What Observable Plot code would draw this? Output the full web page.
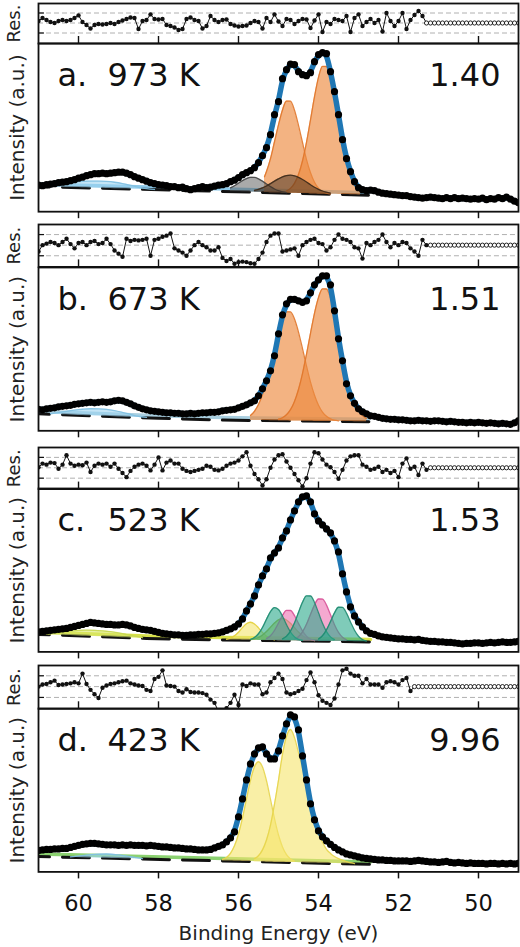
<!DOCTYPE html>
<html><head><meta charset="utf-8">
<script src="https://cdn.jsdelivr.net/npm/d3@7"></script>
<script src="https://cdn.jsdelivr.net/npm/@observablehq/plot@0.6"></script>
<style>
html,body{margin:0;padding:0;background:#fff;}
#chart{position:relative;width:520px;height:947px;overflow:hidden;font-family:"DejaVu Sans",sans-serif;}
#chart svg{position:absolute;left:0;overflow:visible;}
</style></head><body><div id="chart"></div>
<script>
// ---------- data ----------
const energy = [
61,60.9,60.8,60.7,60.6,60.5,60.4,60.3,60.2,60.1,
60,59.9,59.8,59.7,59.6,59.5,59.4,59.3,59.2,59.1,
59,58.9,58.8,58.7,58.6,58.5,58.4,58.3,58.2,58.1,
58,57.9,57.8,57.7,57.6,57.5,57.4,57.3,57.2,57.1,
57,56.9,56.8,56.7,56.6,56.5,56.4,56.3,56.2,56.1,
56,55.9,55.8,55.7,55.6,55.5,55.4,55.3,55.2,55.1,
55,54.9,54.8,54.7,54.6,54.5,54.4,54.3,54.2,54.1,
54,53.9,53.8,53.7,53.6,53.5,53.4,53.3,53.2,53.1,
53,52.9,52.8,52.7,52.6,52.5,52.4,52.3,52.2,52.1,
52,51.9,51.8,51.7,51.6,51.5,51.4,51.3,51.2,51.1,
51,50.9,50.8,50.7,50.6,50.5,50.4,50.3,50.2,50.1,
50,49.9,49.8,49.7,49.6,49.5,49.4,49.3,49.2,49.1,
49];
const xTicks = [60,58,56,54,52,50];
const residualGrid = [-1,0,1];
const residualTicks = [-1,1];
const letters = ["a.","b.","c.","d."];
const temperatures = ["973 K","673 K","523 K","423 K"];
const ratios = ["1.40","1.51","1.53","9.96"];
const fitEnd = [51.3,51.2,51.2,51.6];

const intensityA = [
26.5,26,27,27.5,28,29,29.5,30,31,32,
33.5,34.5,36,37,38,38,38.5,38,38.5,39,
39.5,39.5,38.5,37,35,33.5,32,30.5,29,28,
27,26.5,26,25,25,24,24.5,23,22,23,
24,25,24,24.5,25.5,26.5,27,28,30,31.5,
34,37,39,41,44,49,56,64,77,97,
110,133,142,147.5,147,140,137,136,139,150,
157,159,158,140,120,97,72,53,40,30,
24,22,21,21.5,21,19.5,18.5,18,17.5,17,
16.5,16,16,15,14.5,14,13.5,14,14.5,14,
13.5,13,14,13,14,13,13.5,13,12.5,13,
12.5,13.5,12,13,12.5,14,13,14.5,12.5,10.5,
9];
const intensityB = [
21.5,21,22,22.5,23,24,24.5,25,25.5,26.5,
27,27.5,28,28.5,28,28.5,29,28.5,29,30,
30.5,30,28.5,27,25,23.5,22,21,20,19.5,
19,18.5,18,18,17.5,17.5,17,17,17.5,17,
17.5,18,18,18.5,18.5,19,20,20.5,21,21.5,
23,24.5,26,28,30,35,42,50,60,75,
97,116,127,131.5,131.5,130,128.5,130,138,146,
151,155,155,146,120,92,70,47,35,27.5,
22,19,17,15,14.5,13.5,12.5,12,11.5,11.5,
11,11,10.5,10,10,10.5,10,10,9.5,10,
10,9.5,9,9.5,9,8.5,8.5,8,8.5,8,
8.5,8,7.5,8,7.5,7,7.5,7,6.5,8,
10];
const intensityC = [
20,20.5,21,21.5,22,22.5,23,23.5,24.5,25.5,
26.5,27.5,28.5,29.5,29,28.5,28,27.5,27.5,27,
27,27.5,27,26,24.5,23.5,22.5,22,21.5,20.5,
19.5,18.5,18,17.5,17,17,16.5,16.5,17,17,
17.5,17.5,18,18,18.5,19,20,21.5,23,25,
28,33,41,48,56,67,76,83,94,99,
104,114,121,132,141,150,155,156,150,138,
131,127,123,119,111,100,78,60,45,36,
30,25,21,18.5,17.5,16,15,14.5,14,13.5,
13,13,12.5,12.5,12,12.5,11.5,11,10.5,10.5,
10,10,9.5,9.5,9,8.5,8,8.5,8.5,9,
9,8.5,9,9.5,9,9.5,10,9.5,9.5,10,
10.5];
const intensityD = [
21.5,22,22.5,22.5,23,23,23.5,23.5,24.5,25.5,
26.5,27.5,28,28.5,28.5,28,27.5,27,27,27,
26.5,27,26.5,27,26.5,26.5,26.5,26,26.5,26,
25.5,25,25,24.5,24,24,23.5,23,23,22.5,
22,22,22,22.5,24,25.5,27,30,34,40,
55,73,92,108,118,124,125,118,113,113,
121,136,148,157,155,142,116,92,68,52,
41,35,31,27.5,24.5,22,20,18,17,16,
15,14,13.5,13,12.5,12,12,11.5,11.5,11,
11,11,11,10.5,11,11.5,11,10.5,10,10,
9.5,10,10.5,9.5,9,9.5,9,8.5,9,8.5,
8.5,8.5,8,8.5,8.5,8,8.5,8,8.5,8,
8.5];

const residualA = [
0.2,0.5,0.3,0.1,0,0.2,0.3,0.2,0.3,0.5,
0.76,0.1,-0.2,-0.55,-0.2,-0.1,-0.15,-0.1,0,-0.1,
0.1,0.25,0.4,0.55,0.5,-0.6,0.2,0.3,0.86,0.4,
0.35,0.4,-0.2,-0.3,-0.45,-0.7,-0.6,0.4,0.55,0.3,
0.2,-0.55,-0.3,0.7,0.3,0.1,0.3,0.35,-0.1,-0.25,
-0.35,-0.3,-0.25,0,0.2,0.1,-0.55,0.5,0.1,0.86,
0.15,-0.3,0.4,0.3,-0.1,0.2,0.4,0.35,-0.5,0.25,
0.86,-0.9,0.1,-0.1,0.4,0.3,0.2,0.7,-0.9,0.5,
0.86,-0.3,0.1,0.4,0,0.3,-0.85,1,0.2,-0.3,
0.2,1,-0.6,0.3,0.8,1.2,0.7,0,0,0,
0,0,0,0,0,0,0,0,0,0,
0,0,0,0,0,0,0,0,0,0,
0];
const residualB = [
-0.6,0,0.15,0.3,0.2,0,0.3,0.6,0.1,-0.3,
0.2,0.3,0,0.3,0.4,0.1,0.2,0.6,0.1,-0.5,
-0.8,-1.1,0.6,0.4,0.5,0.45,0.5,0.6,-1,0.5,
0.6,0.8,0.9,1.1,-0.3,-0.5,-0.7,-1,-0.5,0,
0.3,0,-0.2,-0.5,-0.5,-0.2,-1.2,-1.5,-1.3,-1.75,
-1.6,-1.55,-1.6,-1.7,-1.75,-1.3,-0.7,0.3,0.9,1.1,
1.1,-0.6,-0.5,-0.4,-0.3,-1,0,0.3,0.5,0.6,
0.2,0.1,-0.5,-0.2,0.5,1,0.6,0.5,0.3,-0.2,
-0.3,-1.27,0.2,0,0.3,0.5,1,0.3,-0.2,0.2,
0,0.3,0.2,-0.3,-0.6,-1,0.5,0,0,0,
0,0,0,0,0,0,0,0,0,0,
0,0,0,0,0,0,0,0,0,0,
0];
const residualC = [
0.05,0.4,0.3,0.5,0.45,-0.1,0.3,1.2,0.4,0.2,
0.3,0.25,0.5,-0.4,0.2,0.4,0.3,0.4,0.1,0.4,
-0.1,-0.5,-0.9,-0.3,0.1,0.3,0.4,0.2,-0.25,0.3,
1,-0.25,0.5,0.7,0.4,0.4,-0.1,-0.3,-0.4,-0.3,
-0.2,-0.1,0.2,0.1,-0.2,-0.25,-0.1,0.2,0.4,0.5,
0.7,1.1,1.5,0.2,-0.6,-1.1,-1.7,-1.1,0,0.8,
1.2,1.3,0.6,0,-0.6,-1.2,-1.8,-1,0.4,1.5,
1.4,0.8,0.3,0.05,-0.4,-1.05,-0.2,0.7,1.1,1.2,
1.2,0.3,0.1,-0.2,-0.1,0.1,-0.4,-0.2,-0.5,-0.3,
-0.9,0.4,0.9,-0.1,0.1,-0.7,0.4,-0.2,0,0,
0,0,0,0,0,0,0,0,0,0,
0,0,0,0,0,0,0,0,0,0,
0];
const residualD = [
0,0.2,0.25,0.4,0.55,0.15,0.2,0.25,0.3,0.4,
0.3,1.2,0.25,-0.3,-0.7,-1.05,-0.1,0.1,0.25,0.3,
0.4,0.5,0.55,0.3,0.2,0.1,0.05,-0.3,-0.4,0.7,
0.9,1.5,0.1,0.05,0,-0.4,-0.55,-0.25,-0.5,-0.55,
-0.55,-0.6,-0.75,-1.2,-1.5,-2.3,-2.3,-2,-1.5,-0.75,
-1.7,0.2,0.05,0.3,0.2,0.2,-0.7,-0.55,0.4,0.8,
1.2,0.7,-0.55,-0.7,-0.6,-0.4,-0.2,0.6,1.3,0.4,
-0.8,-1.3,-1.5,-1.7,-1.1,0.2,1.5,1.65,1.2,1,
1,0.3,0.7,0.2,0.2,0.2,-0.1,0.4,0.5,0.4,
0.2,0.6,0.8,-0.4,0,0,0,0,0,0,
0,0,0,0,0,0,0,0,0,0,
0,0,0,0,0,0,0,0,0,0,
0];

// background lines [energy, intensity]
const baselineA = [[61,25],[52.75,16.5]];
const baselineB = [[61,17],[58,12.5],[56.4,10.7],[52.74,9]];
const baselineC = [[61,17.5],[58.3,13.4],[56.4,12],[52.7,10]];
const baselineD = [[61,15.3],[52.7,7.5]];

// fit components [energy, height above background]
const aHump = [[60.7,0.5],[60.5,2],[60.3,3.8],[60.1,5.3],[59.9,6.4],[59.7,7],[59.5,7.2],[59.3,7],[59.1,6.4],[58.9,5.3],[58.7,3.8],[58.5,2],[58.3,0.8],[58.1,0.2]];
const aOrange1 = [[55.35,15.8],[55.3,21],[55.2,34],[55.1,51],[55,68],[54.9,83],[54.8,92],[54.7,92],[54.6,83],[54.5,68],[54.4,51],[54.3,34],[54.2,21],[54.1,11.6],[54,5.8],[53.9,2.6],[53.8,1],[53.7,0.3]];
const aOrange2 = [[54.8,2.1],[54.7,4.8],[54.6,9.9],[54.5,18.8],[54.4,32.5],[54.3,51.2],[54.2,73.8],[54.1,97],[54,116.5],[53.9,127.6],[53.8,127.6],[53.7,116.5],[53.6,97],[53.5,73.8],[53.4,51.2],[53.3,32.5],[53.2,18.8],[53.1,9.9],[53,4.8],[52.95,3]];
const aGrey = [[56.2,3.8],[56.1,6],[56,8.6],[55.9,11.3],[55.8,13.5],[55.7,14.8],[55.6,14.8],[55.5,13.5],[55.4,11.3],[55.3,8.6],[55.2,6],[55.1,3.8],[55,2.2],[54.9,1.2],[54.8,0.5]];
const aBrown = [[55.6,1.9],[55.5,3],[55.4,4.6],[55.3,6.6],[55.2,9],[55.1,11.6],[55,14],[54.9,16.1],[54.8,17.5],[54.7,18],[54.6,17.5],[54.5,16.1],[54.4,14],[54.3,11.6],[54.2,9],[54.1,6.6],[54,4.6],[53.9,3],[53.8,1.9],[53.7,1]];

const bHump = [[60.7,0.5],[60.5,2],[60.3,3.5],[60.1,5],[59.9,6.2],[59.7,7],[59.5,7.2],[59.3,7],[59.1,6],[58.9,4.5],[58.7,2.8],[58.5,1.3],[58.3,0.4]];
const bOrange1 = [[55.7,5],[55.6,9.2],[55.5,16],[55.4,26],[55.3,39],[55.2,55],[55.1,72.4],[55,88.9],[54.9,101.9],[54.8,109],[54.7,109],[54.6,101.9],[54.5,88.9],[54.4,72.4],[54.3,55],[54.2,39],[54.1,26],[54,16],[53.9,9.2],[53.8,5],[53.7,2.5],[53.6,1.2],[53.5,0.5]];
const bOrange2 = [[55,1.5],[54.9,3.1],[54.8,6.1],[54.7,11.2],[54.6,19.5],[54.5,31.5],[54.4,47.4],[54.3,66.8],[54.2,87.8],[54.1,107.9],[54,123.6],[53.9,132.3],[53.8,132.3],[53.7,123.6],[53.6,107.9],[53.5,87.8],[53.4,66.8],[53.3,47.4],[53.2,31.5],[53.1,19.5],[53,11.2],[52.9,6.1],[52.8,3.1]];

const cHump = [[60.8,0.5],[60.6,1.8],[60.4,3.2],[60.2,4.5],[60,5.5],[59.8,6],[59.6,6.2],[59.4,6],[59.2,5.5],[59,4.5],[58.8,3.2],[58.6,1.8],[58.4,0.7]];
const cYellow = [[56.3,0.7],[56.2,1.8],[56.1,4.2],[56,7.9],[55.9,12.5],[55.8,16.4],[55.7,18],[55.6,16.4],[55.5,12.5],[55.4,7.9],[55.3,4.2],[55.2,1.8],[55.1,0.7]];
const cOlive = [[55.7,0.6],[55.6,1.4],[55.5,2.9],[55.4,5.3],[55.3,8.9],[55.2,13.2],[55.1,17.5],[55,20.8],[54.9,22],[54.8,20.8],[54.7,17.5],[54.6,13.2],[54.5,8.9],[54.4,5.3],[54.3,2.9],[54.2,1.4],[54.1,0.6]];
const cPink1 = [[55.3,1.9],[55.2,4.8],[55.1,10.1],[55,17.5],[54.9,25.2],[54.8,30.3],[54.7,30.3],[54.6,25.2],[54.5,17.5],[54.4,10.1],[54.3,4.8],[54.2,1.9],[54.1,0.6]];
const cPink2 = [[54.6,1.7],[54.5,4.2],[54.4,9],[54.3,16.7],[54.2,26.6],[54.1,36.2],[54,42.2],[53.9,42.2],[53.8,36.2],[53.7,26.6],[53.6,16.7],[53.5,9],[53.4,4.2],[53.3,1.7]];
const cTeal1 = [[55.7,0.8],[55.6,2.8],[55.5,6.6],[55.4,12.9],[55.3,21.2],[55.2,28.9],[55.1,33],[55,31.1],[54.9,24.5],[54.8,16.1],[54.7,8.8],[54.6,4],[54.5,1.5],[54.4,0.5]];
const cTeal2 = [[54.9,1.8],[54.8,4.5],[54.7,9.7],[54.6,17.9],[54.5,28.4],[54.4,38.7],[54.3,45.1],[54.2,45.1],[54.1,38.7],[54,28.4],[53.9,17.9],[53.8,9.7],[53.7,4.5],[53.6,1.8]];
const cTeal3 = [[54,2.2],[53.9,5.5],[53.8,11.4],[53.7,19.7],[53.6,28.5],[53.5,34.2],[53.4,34.2],[53.3,28.5],[53.2,19.7],[53.1,11.4],[53,5.5],[52.9,2.2],[52.8,0.7]];

const dHump = [[60.2,0.5],[59.9,2],[59.6,3.5],[59.3,4.2],[59,3.5],[58.7,2],[58.4,0.5]];
const dYellow1 = [[56.4,1.5],[56.3,3.6],[56.2,7.8],[56.1,15.4],[56,27.2],[55.9,43.5],[55.8,62.6],[55.7,81.2],[55.6,94.9],[55.5,100],[55.4,94.9],[55.3,81.2],[55.2,62.6],[55.1,43.5],[55,27.2],[54.9,15.4],[54.8,7.8],[54.7,3.6],[54.6,1.5]];
const dYellow2 = [[55.6,3],[55.5,6],[55.4,12],[55.3,22],[55.2,37],[55.1,58],[55,82],[54.9,108],[54.8,126],[54.7,133],[54.6,125],[54.5,110],[54.4,95],[54.3,78],[54.2,58],[54.1,42],[54,30],[53.9,21],[53.8,14],[53.7,10],[53.6,7],[53.5,5],[53.4,3.5],[53.3,2.3],[53.2,1.2],[53.1,0.5]];

// ---------- styles / layout ----------
const ORANGE = {fill:"#ec8a3f", stroke:"#e0762a", op:0.65};
const panels = [
  {intensity:intensityA, residual:residualA, baseline:baselineA, underlay:"#8cc8e8",
   components:[{pts:aHump, fill:"#9dd3f0", stroke:"#7fbfe0", op:0.6},
               {pts:aOrange1, ...ORANGE},{pts:aOrange2, ...ORANGE},
               {pts:aGrey, fill:"#555555", stroke:"#444444", op:0.5},
               {pts:aBrown, fill:"#3d2a1a", stroke:"#3d2a1a", op:0.5}]},
  {intensity:intensityB, residual:residualB, baseline:baselineB, underlay:"#a9cfe0",
   components:[{pts:bHump, fill:"#9dd3f0", stroke:"#7fbfe0", op:0.6},
               {pts:bOrange1, ...ORANGE},{pts:bOrange2, ...ORANGE}]},
  {intensity:intensityC, residual:residualC, baseline:baselineC, underlay:"#d7e04a",
   components:[{pts:cHump, fill:"#d8e86a", stroke:"#c5d650", op:0.6},
               {pts:cYellow, fill:"#f4e46c", stroke:"#e3cf3a", op:0.6},
               {pts:cOlive, fill:"#c2c83c", stroke:"#a8ad25", op:0.6},
               {pts:cPink1, fill:"#ec6fb0", stroke:"#d64f95", op:0.6},
               {pts:cPink2, fill:"#ec6fb0", stroke:"#d64f95", op:0.6},
               {pts:cTeal1, fill:"#2aa98b", stroke:"#1e8a70", op:0.6},
               {pts:cTeal2, fill:"#2aa98b", stroke:"#1e8a70", op:0.6},
               {pts:cTeal3, fill:"#2aa98b", stroke:"#1e8a70", op:0.6}]},
  {intensity:intensityD, residual:residualD, baseline:baselineD, underlay:"#8bd170",
   components:[{pts:dHump, fill:"#9dd3f0", stroke:"#7fbfe0", op:0.6},
               {pts:dYellow1, fill:"#f5e46a", stroke:"#e6d44a", op:0.6},
               {pts:dYellow2, fill:"#f5e46a", stroke:"#e6d44a", op:0.6}]}
];
const layout = [
  {resTop:3.3, resH:40, mainTop:43.3, mainH:168.2},
  {resTop:224.3, resH:42.4, mainTop:266.7, mainH:163.3},
  {resTop:446.7, resH:41.6, mainTop:488.3, mainH:163.4},
  {resTop:665, resH:43.3, mainTop:708.3, mainH:163.4}
];
const ML = 38, MR = 2;
const STYLE = {fontFamily:"'DejaVu Sans', sans-serif", background:"transparent", overflow:"visible", color:"#111"};
const chart = document.getElementById("chart");

function place(svg, top) { svg.style.top = top + "px"; chart.appendChild(svg); }

function residualChart(k) {
  const p = panels[k], g = layout[k];
  const rows = energy.map((e, i) => ({e, r: p.residual[i], tail: e <= fitEnd[k] + 1e-9}));
  const svg = Plot.plot({
    width: 520, height: g.resH + 4, marginTop: 2, marginBottom: 2, marginLeft: ML, marginRight: MR,
    style: STYLE,
    x: {domain: [61, 49], axis: null},
    y: {domain: [-2.05, 1.95], axis: null},
    marks: [
      Plot.ruleY(residualGrid, {y: d => d, stroke: "#b0b0b0", strokeWidth: 1, strokeDasharray: "5,3"}),
      Plot.line(rows, {x: "e", y: "r", stroke: "#111", strokeWidth: 1, clip: true}),
      Plot.dot(rows.filter(d => !d.tail), {x: "e", y: "r", r: 2.2, fill: "#111", clip: true}),
      Plot.dot(rows.filter(d => d.tail), {x: "e", y: "r", r: 2.1, fill: "white", stroke: "#111", strokeWidth: 0.9, clip: true}),
      Plot.frame({stroke: "#111", strokeWidth: 1.8}),
      Plot.axisX(xTicks, {anchor: "bottom", tickSize: 7, dy: -7, tickFormat: () => "", label: null, strokeWidth: 1.4}),
      Plot.axisY(residualTicks, {anchor: "left", tickSize: 6, dx: 6, tickFormat: () => "", label: null, strokeWidth: 1.2}),
      Plot.text(["Res."], {text: d => d, frameAnchor: "left", dx: -24, rotate: -90, textAnchor: "middle", lineAnchor: "middle", fontSize: 18, fill: "#222"})
    ]
  });
  place(svg, g.resTop - 2);
}

function mainChart(k) {
  const p = panels[k], g = layout[k], last = k === panels.length - 1;
  const base = d3.scaleLinear().domain(p.baseline.map(d => d[0])).range(p.baseline.map(d => d[1])).clamp(true);
  const spec = energy.map((e, i) => ({e, v: p.intensity[i]}));
  const marks = [
    Plot.line(p.baseline, {x: d => d[0], y: d => d[1], stroke: p.underlay, strokeWidth: 3.5, dy: -2.5, clip: true}),
    Plot.line(p.baseline, {x: d => d[0], y: d => d[1], stroke: "#111", strokeWidth: 3, strokeDasharray: "27,13", strokeDashoffset: 16, clip: true})
  ];
  for (const c of p.components) {
    const rows = c.pts.map(([e, h]) => ({e, lo: base(e), hi: base(e) + h}));
    marks.push(Plot.areaY(rows, {x: "e", y1: "lo", y2: "hi", fill: c.fill, fillOpacity: c.op, curve: "monotone-x", clip: true}));
    marks.push(Plot.line(rows, {x: "e", y: "hi", stroke: c.stroke, strokeWidth: 1.3, strokeOpacity: 0.9, curve: "monotone-x", clip: true}));
  }
  marks.push(
    Plot.line(spec, {x: "e", y: "v", stroke: "#1f77b4", strokeWidth: 5.5, curve: "basis", clip: true}),
    Plot.dot(spec, {x: "e", y: "v", r: 3.6, fill: "#000", clip: true}),
    Plot.frame({stroke: "#111", strokeWidth: 1.8}),
    Plot.axisX(xTicks, {anchor: "bottom", tickSize: 7, strokeWidth: 1.5, label: null, tickFormat: () => ""}),
    Plot.text([letters[k]], {text: d => d, frameAnchor: "top-left", dx: 19, dy: 42.5, lineAnchor: "bottom", textAnchor: "start", fontSize: 32, fill: "#111"}),
    Plot.text([temperatures[k]], {text: d => d, frameAnchor: "top-left", dx: 69, dy: 42.5, lineAnchor: "bottom", textAnchor: "start", fontSize: 32, fill: "#111"}),
    Plot.text([ratios[k]], {text: d => d, frameAnchor: "top-right", dx: -18, dy: 42.5, lineAnchor: "bottom", textAnchor: "end", fontSize: 32, fill: "#111"}),
    Plot.text(["Intensity (a.u.)"], {text: d => d, frameAnchor: "left", dx: -21, rotate: -90, textAnchor: "middle", lineAnchor: "middle", fontSize: 20, fill: "#222"})
  );
  if (last) {
    marks.push(
      Plot.text(xTicks, {x: d => d, text: d => String(d), frameAnchor: "bottom", dy: 39, lineAnchor: "bottom", textAnchor: "middle", fontSize: 22.5, fill: "#111"}),
      Plot.text(["Binding Energy (eV)"], {text: d => d, frameAnchor: "bottom", dy: 68, lineAnchor: "bottom", textAnchor: "middle", fontSize: 20, fill: "#222"})
    );
  }
  const svg = Plot.plot({
    width: 520, height: g.mainH + 2 + (last ? 75 : 10), marginTop: 2, marginBottom: last ? 75 : 10,
    marginLeft: ML, marginRight: MR, style: STYLE,
    x: {domain: [61, 49], axis: null},
    y: {domain: [0, g.mainH], axis: null},
    marks
  });
  place(svg, g.mainTop - 2);
}

for (let k = 0; k < panels.length; k++) { mainChart(k); residualChart(k); }
</script>
</body></html>
